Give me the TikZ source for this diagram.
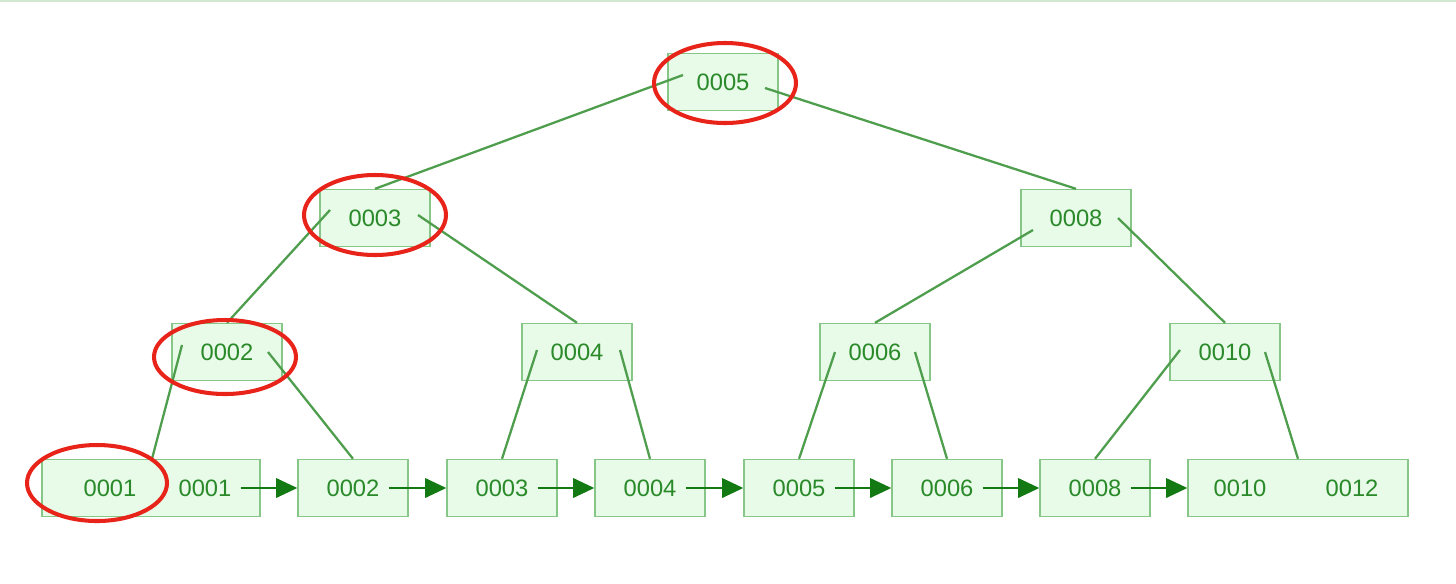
\documentclass[tikz,border=0pt]{standalone}
\usepackage{fontspec}
\setmainfont{Liberation Sans}
\usetikzlibrary{calc,arrows.meta}
\definecolor{bfill}{HTML}{E8FAE8}
\definecolor{bdraw}{HTML}{86C686}
\definecolor{btext}{HTML}{2A8A2A}
\definecolor{bline}{HTML}{4E9E4E}
\definecolor{barrow}{HTML}{137A13}
\definecolor{hl}{HTML}{E8231A}
\begin{document}
\begin{tikzpicture}[x=0.02cm,y=-0.02cm,
  keybox/.style={draw=bdraw,fill=bfill,line width=0.8pt,minimum height=57*0.02cm,inner sep=0pt},
  key/.style={text=btext,font=\fontsize{13.5}{15}\selectfont},
  edge/.style={draw=bline,line width=1.3pt},
  nxt/.style={draw=barrow,line width=1.3pt,-{Triangle[length=12pt,width=11pt]}},
  hlring/.style={draw=hl,line width=2.3pt}]
\useasboundingbox (0,0) rectangle (1456,583);
\draw[bdraw!40,line width=0.8pt] (0,1) -- (1456,1);
% inner nodes
\foreach \n/\x/\y/\t in {r/723/82/0005, a/375/218/0003, b/1076/218/0008, c/227/352/0002, d/577/352/0004, e/875/352/0006, f/1225/352/0010}{
  \node[keybox,minimum width=110*0.02cm] (\n) at (\x,\y) {};
  \node[key] (\n t) at (\x,\y) {\t};
}
% leaves
\node[keybox,minimum width=218*0.02cm] (l1) at (151,488) {};
\node[key] (l1a) at (110,488) {0001};
\node[key] (l1b) at (205,488) {0001};
\foreach \n/\x/\t in {l2/353/0002, l3/502/0003, l4/650/0004, l5/799/0005, l6/947/0006, l7/1095/0008}{
  \node[keybox,minimum width=110*0.02cm] (\n) at (\x,488) {};
  \node[key] (\n t) at (\x,488) {\t};
}
\node[keybox,minimum width=220*0.02cm] (l8) at (1298,488) {};
\node[key] (l8a) at (1240,488) {0010};
\node[key] (l8b) at (1352,488) {0012};
% tree edges
\draw[edge] ($(r.center)+(-40,-7)$) -- (a.north);
\draw[edge] ($(r.center)+(42,6)$) -- (b.north);
\draw[edge] ($(a.center)+(-45,-8)$) -- (c.north);
\draw[edge] ($(a.center)+(43,-3)$) -- ($(d.north)$);
\draw[edge] ($(b.center)+(-43,12)$) -- (e.north);
\draw[edge] ($(b.center)+(42,0)$) -- (f.north);
\draw[edge] ($(c.center)+(-45,-7)$) -- ($(l1.north)+(1,0)$);
\draw[edge] ($(c.center)+(41,0)$) -- (l2.north);
\draw[edge] ($(d.center)+(-40,-2)$) -- (l3.north);
\draw[edge] ($(d.center)+(43,-2)$) -- (l4.north);
\draw[edge] ($(e.center)+(-40,0)$) -- (l5.north);
\draw[edge] ($(e.center)+(40,0)$) -- (l6.north);
\draw[edge] ($(f.center)+(-45,-2)$) -- (l7.north);
\draw[edge] ($(f.center)+(40,0)$) -- (l8.north);
% leaf links
\draw[nxt] ($(l1b.east)+(3,0)$) -- (l2.west);
\foreach \p/\q in {l2/l3,l3/l4,l4/l5,l5/l6,l6/l7,l7/l8}{
  \draw[nxt] ($(\p t.east)+(3,0)$) -- (\q.west);
}
% highlights
\draw[hlring] (725,83) ellipse [x radius=71,y radius=40];
\draw[hlring] (375,215) ellipse [x radius=71,y radius=40];
\draw[hlring] (225,357) ellipse [x radius=71,y radius=37];
\draw[hlring] (97,483) ellipse [x radius=70,y radius=38];
\end{tikzpicture}
\end{document}
